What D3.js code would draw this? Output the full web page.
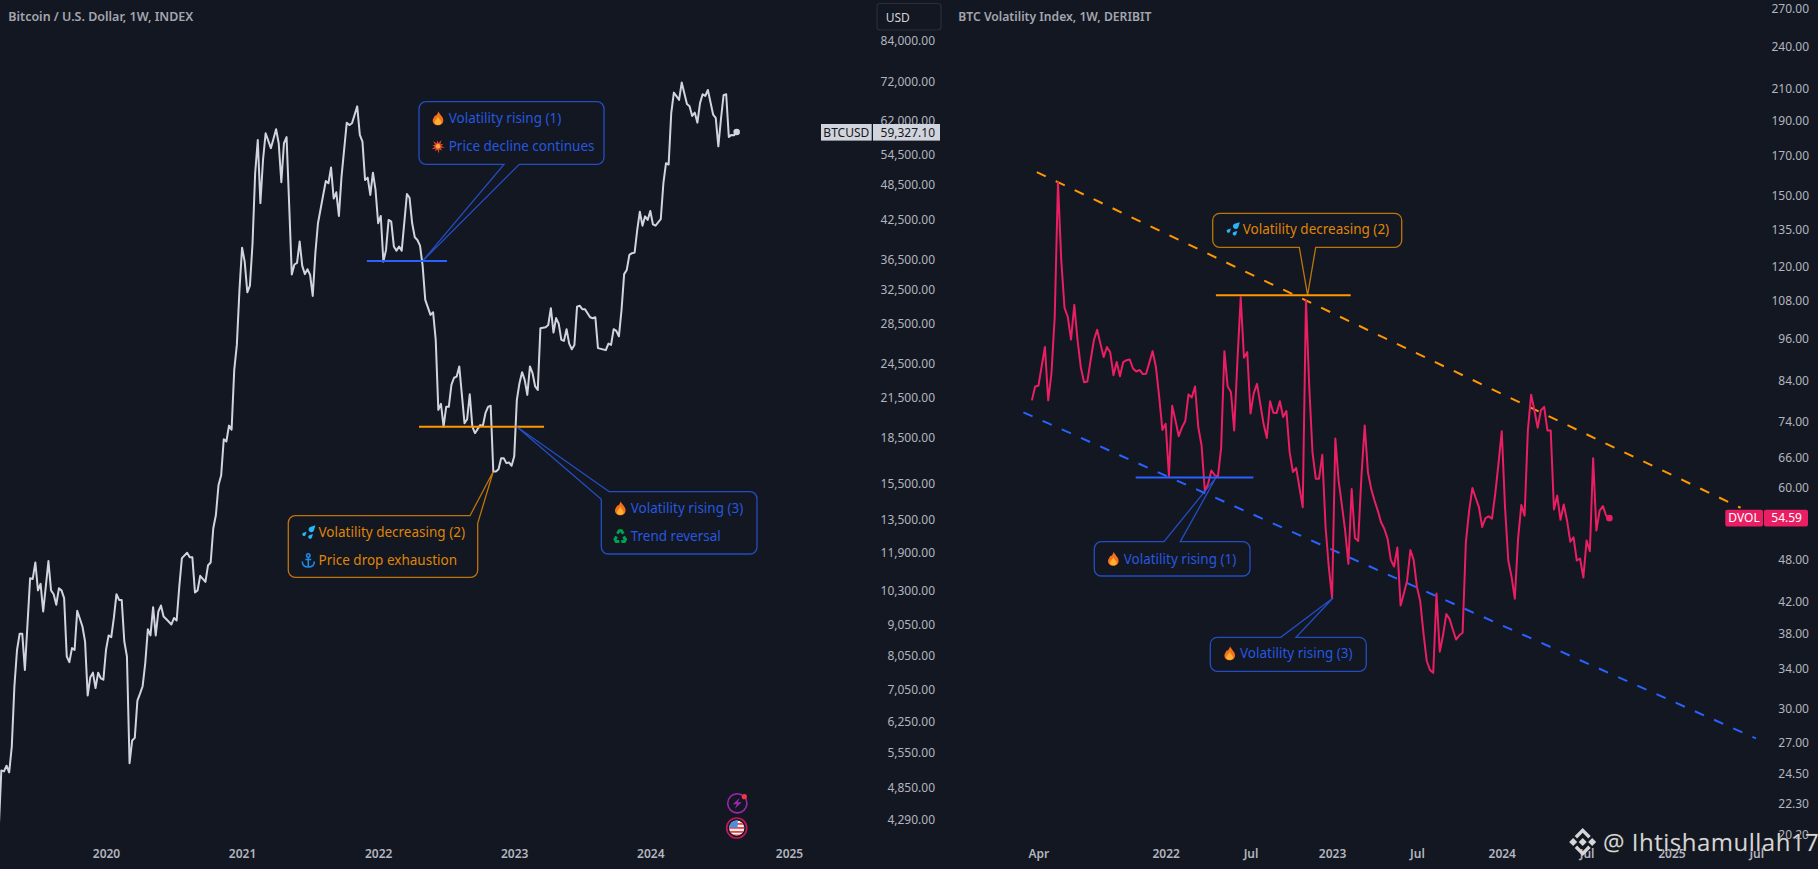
<!DOCTYPE html>
<html><head><meta charset="utf-8">
<script src="https://cdn.jsdelivr.net/npm/d3@7"></script>
<style>
html,body{margin:0;padding:0;background:#131722;overflow:hidden}
svg{display:block}
text{font-family:"Noto Sans",sans-serif}
</style></head><body>
<svg id="c" width="1818" height="869"></svg>
<script>
// ---------- DATA ----------
// BTCUSD: weeks since 2020-01-06 and weekly closes
const btcWeek=[-41,-40,-39,-38,-37,-36,-35,-34,-33,-32,-31,-29,-28,-27,-26,-25,-24,-22,-21,-20,-19,-18,-17,-16,-15,-14,-13,-12,-11,-9,-8,-7,-6,-5,-4,-3,-2,-1,
0,1,2,3,4,5,6,7,8,9,10,11,12,13,14,15,16,17,18,19,20,21,22,23,25,26,27,28,29,31,32,33,34,35,36,38,39,40,41,42,43,44,45,46,47,48,49,50,51,52,53,54,55,56,57,58,59,60,61,63,65,66,67,68,69,70,71,72,73,74,75,76,77,78,79,80,81,83,84,85,86,87,88,89,90,92,93,94,96,97,98,99,100,101,102,103,104,105,106,107,108,109,110,111,112,113,115,116,117,118,119,120,121,122,124,125,126,127,128,129,130,131,132,133,134,135,137,138,139,140,141,142,143,144,145,146,147,148,149,150,151,152,153,154,155,156,157,158,159,160,161,162,163,164,165,166,168,169,170,171,172,173,174,175,176,177,178,179,180,181,182,183,185,186,187,188,191,192,193,194,195,196,197,198,199,200,201,202,203,204,205,206,207,208,209,210,212,213,214,215,216,217,219,220,222,223,224,225,226,227,228,229,230,232,233,234,235,236,237,238,239,240,241];
const btcClose=[4134,5184,5165,5278,5145,5680,7150,8210,8740,8740,7610,10800,10770,11470,10310,10570,9510,11530,10310,10160,9760,10390,10310,10010,8010,7840,8270,8210,9540,8980,8480,6900,7400,7530,7100,7530,7370,7330,
8210,8680,8620,9280,10160,9940,9940,8480,8010,5330,5810,5870,6770,6950,7150,7810,8890,8680,9670,8680,9510,9730,9330,9240,9050,9280,9190,10450,11660,11900,11700,11700,10230,10310,10900,10650,11350,11470,13070,13750,15420,15980,18360,18200,19340,19050,23900,26320,32470,38160,36180,32180,33020,38800,50690,57560,45230,53330,59060,55790,59970,56850,48980,56850,58190,44900,34440,35780,35990,39050,35590,34490,35140,34380,31740,37360,41880,46660,49226,48800,51800,46030,47140,43070,50040,61500,60940,61350,65450,58680,57200,49410,49850,46660,50800,47560,41880,43070,36180,37830,42420,42140,38330,37730,38330,37730,46840,46160,41880,39700,39290,38460,35590,31260,29520,29820,26830,20540,21020,19270,20780,20780,22590,23220,23320,24240,19520,19820,21800,19270,18790,19080,19380,19310,20280,20770,20870,16230,16230,16370,17070,17070,16760,16800,16590,17200,21340,22740,23720,23030,21750,24240,23630,22460,22170,28050,28150,28400,30280,27590,29160,28550,26830,26730,27950,26450,25890,26320,30460,30570,30170,30170,29250,29140,29250,26000,25800,26450,26320,27950,27770,27200,30060,34490,35050,37110,37360,37440,40820,43780,41500,43000,42420,43900,41720,41490,42530,48800,52680,52420,63750,68970,67080,71670,66050,65460,63100,63890,61500,66260,68550,68090,69660,63440,62620,56190,62370,68290,68550,58240,58690,58610,59327.10];
// DVOL: weeks since 2022-01-03 and weekly closes
const dvolWeek=[-40,-39,-38,-36,-35,-34,-33,-32,-31,-30,-29,-28,-27,-26,-25,-24,-23,-22,-21,-20,-19,-18,-17,-16,-15,-14,-13,-12,-11,-10,-9,-8,-7,-6,-5,-3,-2,-1,0,1,2,3,4,5,6,7,8,9,10,11,12,13,14,15,16,17,18,19,20,21,22,23,24,25,26,27,28,29,31,32,33,34,35,36,37,38,39,40,41,43,44,45,46,47,48,49,50,51,52,53,54,55,56,57,58,59,60,61,62,63,64,65,66,67,68,69,70,71,72,73,74,75,76,77,78,79,80,81,82,83,84,85,86,87,88,89,90,91,92,93,94,95,96,97,98,99,100,101,102,103,104,105,106,107,108,109,110,111,112,113,114,115,116,117,118,119,120,121,122,123,124,125,126,127,128,129,130,131,132,133,134,135,136,137];
const dvolClose=[79.0,82.5,82.7,93.4,79.0,86.0,102.7,156.6,122.7,105.6,102.7,95.6,106.6,95.4,87.6,83.6,83.8,89.6,95.4,98.6,94.4,90.5,93.4,91.9,85.5,89.1,85.2,89.1,89.6,89.8,87.3,86.5,86.9,85.8,85.9,92.2,87.8,80.0,72.0,73.4,62.3,77.7,74.2,70.6,72.6,74.0,80.5,79.7,82.5,72.6,68.6,59.5,60.8,63.4,62.5,62.2,68.0,92.2,82.5,81.1,71.9,89.6,109.2,90.3,91.9,75.8,80.8,83.2,73.4,70.2,78.8,76.0,75.9,78.8,75.0,76.4,67.1,63.1,63.9,56.5,108.2,82.5,67.1,61.8,61.8,66.6,53.1,46.8,42.5,70.1,61.4,56.9,52.5,47.3,59.8,51.3,50.8,62.3,73.0,63.0,59.8,57.7,55.9,53.9,52.8,51.2,47.9,46.9,49.8,41.5,43.1,44.9,49.4,47.9,44.0,42.1,38.1,34.9,33.9,33.6,43.1,35.9,37.8,40.4,39.8,38.5,37.3,37.8,38.1,50.6,55.9,60.0,58.2,56.5,53.1,54.6,54.9,54.5,58.9,64.8,71.7,56.5,47.8,45.4,42.4,51.2,56.9,55.0,71.9,80.4,76.6,72.5,76.6,77.4,71.9,71.9,56.1,58.6,54.3,57.0,54.2,50.7,51.4,47.8,48.1,45.3,50.9,49.2,65.9,52.5,55.9,56.7,55.0,54.59];
// Axis ticks
const btcTicks=[84000,72000,62000,54500,48500,42500,36500,32500,28500,24500,21500,18500,15500,13500,11900,10300,9050,8050,7050,6250,5550,4850,4290];
const dvolTicks=[270,240,210,190,170,150,135,120,108,96,84,74,66,60,48,42,38,34,30,27,24.5,22.3,20.2];
const btcTimeDates=["2020-01-06","2021-01-04","2022-01-03","2023-01-02","2024-01-01","2025-01-06"];
const btcTimeLabels=["2020","2021","2022","2023","2024","2025"];
const dvolTimeDates=["2021-04-12","2022-01-10","2022-07-11","2023-01-02","2023-07-03","2024-01-01","2024-07-01","2024-12-30","2025-06-30"];
const dvolTimeLabels=["Apr","2022","Jul","2023","Jul","2024","Jul","2025","Jul"];
// Annotation levels (week from, week to, value)
const btcLevels=[[99.7,130.3,36272,"#2962ff"],[119.6,167.4,19260,"#ff9800"]];
const dvolLevels=[[16.4,57.7,109.9,"#ff9800"],[-8.2,27.9,62.0,"#2962ff"]];
const dvolTrends=[[-38.5,161.7,177.2,56.4,"#ff9800"],[-42.6,76.1,181.9,27.35,"#2962ff"]];
const titleBtc="Bitcoin / U.S. Dollar, 1W, INDEX";
const titleDvol="BTC Volatility Index, 1W, DERIBIT";
const BLUE="#2962ff",ORANGE="#ff9800";
// callouts: tip in data units, box & tail in screen layout
const btcCallouts=[
 {tip:[121,36272],c:BLUE,box:[419,101.7,604,164.3],tail:[[519.3,164.3],[504,164.3]],lines:[["flame","Volatility rising (1)"],["burst","Price decline continues"]],tx:448.7,ix:438,ty:[118.3,146.3]},
 {tip:[148,16230],c:ORANGE,box:[288.3,515.7,477.7,577.3],tail:[[470,515.7],[477.7,523.3]],lines:[["drops","Volatility decreasing (2)"],["anchor","Price drop exhaustion"]],tx:318.5,ix:308.3,ty:[532.5,560.5]},
 {tip:[157,19260],c:BLUE,box:[601.3,491.7,757,554],tail:[[609.3,491.7],[601.3,499.3]],lines:[["flame","Volatility rising (3)"],["recycle","Trend reversal"]],tx:630.7,ix:620.3,ty:[508.3,536.3]}
];
const dvolCallouts=[
 {tip:[44.5,109.9],c:ORANGE,box:[1212.7,213.3,1401.7,247.3],tail:[[1315.7,247.3],[1299.3,247.3]],lines:[["drops","Volatility decreasing (2)"]],tx:1242.7,ix:1232.7,ty:[229.3]},
 {tip:[16.4,62.0],c:BLUE,box:[1094.3,541.7,1250,576],tail:[[1164,541.7],[1180.3,541.7]],lines:[["flame","Volatility rising (1)"]],tx:1123.7,ix:1113.3,ty:[558.7]},
 {tip:[52.3,42.5],c:BLUE,box:[1210.3,637.3,1366.3,671.3],tail:[[1280.7,637.3],[1296,637.3]],lines:[["flame","Volatility rising (3)"]],tx:1240,ix:1229.7,ty:[653.3]}
];
// ---------- SCALES ----------
const D=s=>new Date(s+"T00:00:00Z");
const x1=d3.scaleUtc().domain([D("2020-01-06"),D("2025-01-06")]).range([106,789]);
const x2=d3.scaleUtc().domain([D("2022-01-03"),D("2025-01-06")]).range([1162.4,1674.7]);
const wk1=w=>new Date(+D("2020-01-06")+w*7*864e5);
const wk2=w=>new Date(+D("2022-01-03")+w*7*864e5);
const y1=d3.scaleLog().domain([84000,4290]).range([41,820]);
const y2=d3.scaleLog().domain([270,20.2]).range([8.7,835]);
const svg=d3.select("#c");
svg.append("rect").attr("width",1818).attr("height",869).attr("fill","#131722");
const TICK="#b2b5be";
// ---------- AXES ----------
function yAxis(x,scale,vals){
  const g=svg.append("g").attr("transform",`translate(${x},0)`)
   .call(d3.axisRight(scale).tickValues(vals).tickFormat(d3.format(",.2f")).tickSize(0).tickPadding(0));
  g.select(".domain").remove();
  g.selectAll("text").attr("text-anchor","end").attr("x",0).attr("fill",TICK).style("font-size","12px").style("font-family",'"Noto Sans"');
}
function xAxis(scale,dates,labels){
  const g=svg.append("g").attr("transform","translate(0,850)")
   .call(d3.axisBottom(scale).tickValues(dates.map(D)).tickFormat((d,i)=>labels[i]).tickSize(0).tickPadding(0));
  g.select(".domain").remove();
  g.selectAll("text").attr("fill",TICK).attr("dy","0.7em").style("font-size","12px").style("font-weight","600").style("font-family",'"Noto Sans"');
}
yAxis(935,y1,btcTicks);yAxis(1809,y2,dvolTicks);
xAxis(x1,btcTimeDates,btcTimeLabels);xAxis(x2,dvolTimeDates,dvolTimeLabels);
// ---------- TITLES ----------
[[8.3,titleBtc,185],[958.3,titleDvol,193]].forEach(([x,t,w])=>svg.append("text").attr("x",x).attr("y",21).attr("fill","#a3a6af").attr("textLength",w).attr("lengthAdjust","spacingAndGlyphs").style("font-size","12.3px").style("font-weight","600").text(t));
// USD box
svg.append("rect").attr("x",877).attr("y",3.5).attr("width",64).attr("height",26.5).attr("rx",3).attr("fill","none").attr("stroke","#2a2e39").attr("stroke-width",1.2);
svg.append("text").attr("x",885.7).attr("y",21.5).attr("fill","#d1d4dc").style("font-size","12px").text("USD");
// ---------- LEVELS ----------
function levels(arr,xs,wk,ys){arr.forEach(([a,b,v,c])=>svg.append("line").attr("x1",xs(wk(a))).attr("x2",xs(wk(b))).attr("y1",ys(v)).attr("y2",ys(v)).attr("stroke",c).attr("stroke-width",2));}
// ---------- LINES ----------
const lineOf=(xs,wk,ys,ws,vs)=>d3.line().x((d,i)=>xs(wk(ws[i]))).y((d,i)=>ys(vs[i]))(vs);
svg.append("path").attr("d",lineOf(x1,wk1,y1,btcWeek,btcClose)).attr("fill","none").attr("stroke","#d1d4dc").attr("stroke-width",2).attr("stroke-linejoin","round");
svg.append("circle").attr("cx",x1(wk1(btcWeek.at(-1)))).attr("cy",y1(btcClose.at(-1))).attr("r",3.3).attr("fill","#d1d4dc");
dvolTrends.forEach(([a,va,b,vb,c])=>svg.append("line").attr("x1",x2(wk2(a))).attr("y1",y2(va)).attr("x2",x2(wk2(b))).attr("y2",y2(vb)).attr("stroke",c).attr("stroke-width",2).attr("stroke-dasharray","10 11"));
svg.append("path").attr("d",lineOf(x2,wk2,y2,dvolWeek,dvolClose)).attr("fill","none").attr("stroke","#e91e63").attr("stroke-width",2).attr("stroke-linejoin","round");
svg.append("circle").attr("cx",x2(wk2(dvolWeek.at(-1)))).attr("cy",y2(dvolClose.at(-1))).attr("r",3.3).attr("fill","#e91e63");
levels(btcLevels,x1,wk1,y1);levels(dvolLevels,x2,wk2,y2);
// ---------- ICONS ----------
const icons={
 flame(g){g.append("path").attr("d","M0.5,-7 C1,-4 5.3,-2 5.3,2 C5.3,5.2 3,7 0,7 C-3,7 -5.3,5.2 -5.3,2 C-5.3,0 -3.4,-1.2 -3,-3 C-2.2,-2 -1,-3 0.5,-7Z").attr("fill","#f4701a");
   g.append("path").attr("d","M0,-1.5 C1,1 3.4,2 3.4,4 C3.4,5.9 1.6,6.6 0,6.6 C-1.6,6.6 -3.4,5.9 -3.4,4 C-3.4,2 -1,1 0,-1.5Z").attr("fill","#ffb02e");},
 burst(g){const pts=d3.range(20).map(i=>{const a=i*Math.PI/10+0.2,r=i%2?3.2:(i%4?5.8:7.2);return [r*Math.cos(a),r*Math.sin(a)];});
   g.append("path").attr("d",d3.line()(pts)+"Z").attr("fill","#e8452c");g.append("circle").attr("r",2.2).attr("fill","#ffb02e");},
 drops(g){const dr=(x,y,s)=>g.append("path").attr("transform",`translate(${x},${y}) scale(${s})`).attr("d","M3.6,-3.6 L2.2,1 A2.4,2.4 0 1 1 -1,-2.2 Z").attr("fill","#29b6f6");
   dr(3,-3,1.15);dr(-4.3,1.8,0.72);dr(1.8,4.4,0.78);},
 anchor(g){const p=g.append("g").attr("fill","none").attr("stroke","#1e88e5").attr("stroke-width",1.6);
   p.append("circle").attr("cy",-5).attr("r",1.7);p.append("path").attr("d","M0,-3 V6.5 M-3,-1 H3 M-6,1 C-6,5 -3,6.5 0,6.5 C3,6.5 6,5 6,1");},
 recycle(g){const c="#00a152";
   g.append("path").attr("d","M-1.8,-7 H2 L4.2,-3.2 L1.8,-1.8 L0,-4.6 L-1.8,-2 L-4.2,-3.4Z").attr("fill",c);
   g.append("path").attr("d","M7,3 L5,6.6 H1 V3.6 H3.4 L2,1 L4.6,-0.6Z").attr("fill",c);
   g.append("path").attr("d","M-7,3 L-5,-0.6 L-2.4,1 L-3.8,3.6 H-1 V6.6 H-5Z").attr("fill",c);}
};
// ---------- CALLOUTS ----------
function callouts(list,xs,wk,ys){list.forEach(k=>{
  const tx=xs(wk(k.tip[0])),ty=ys(k.tip[1]);
  const [l,t,r,b]=k.box,R=7,[p,q]=k.tail;
  const path=d3.path();
  path.moveTo(l+R,t);
  if(p[1]===t&&q[1]!==t&&p[0]<l+30&&q[0]===l){
    path.moveTo(p[0],t);path.lineTo(r-R,t);
  } else if(p[1]===t&&q[1]===t){path.lineTo(p[0],t);path.lineTo(tx,ty);path.lineTo(q[0],t);path.lineTo(r-R,t);}
  else if(p[1]===t&&q[0]===r){path.lineTo(p[0],t);path.lineTo(tx,ty);path.lineTo(r,q[1]);}
  else path.lineTo(r-R,t);
  if(!(p[1]===t&&q[0]===r))path.arcTo(r,t,r,t+R,R);
  path.lineTo(r,b-R);path.arcTo(r,b,r-R,b,R);
  if(p[1]===b){path.lineTo(p[0],b);path.lineTo(tx,ty);path.lineTo(q[0],b);}
  path.lineTo(l+R,b);path.arcTo(l,b,l,b-R,R);
  if(q[0]===l&&p[1]===t){path.lineTo(l,q[1]);path.lineTo(tx,ty);path.lineTo(p[0],t);}
  else{path.lineTo(l,t+R);path.arcTo(l,t,l+R,t,R);path.closePath();}
  svg.append("path").attr("d",path.toString()).attr("fill","none").attr("stroke",k.c).attr("stroke-opacity",0.72).attr("stroke-width",1.3);
  k.lines.forEach((ln,i)=>{
    const g=svg.append("g").attr("transform",`translate(${k.ix},${k.ty[i]})`);icons[ln[0]](g);
    svg.append("text").attr("x",k.tx).attr("y",k.ty[i]).attr("dy","0.36em").attr("fill",k.c).attr("fill-opacity",0.88).style("font-size","13.5px").text(ln[1]);
  });
});}
callouts(btcCallouts,x1,wk1,y1);callouts(dvolCallouts,x2,wk2,y2);
// ---------- PRICE LABELS ----------
function tag(x,w,yc,fill,tc,txt,ax,anchor,rad){
  svg.append("rect").attr("x",x).attr("y",yc-8.3).attr("width",w).attr("height",16.6).attr("rx",rad).attr("fill",fill);
  svg.append("text").attr("x",ax).attr("y",yc).attr("dy","0.36em").attr("text-anchor",anchor).attr("fill",tc).style("font-size","12px").text(txt);
}
const yd=y2(dvolClose.at(-1));
tag(821,50.7,132.3,"#d1d4dc","#131722","BTCUSD",846.3,"middle",0);
tag(873,67,132.3,"#d1d4dc","#131722",d3.format(",.2f")(btcClose.at(-1)),935,"end",0);
tag(1725.3,37.7,yd,"#e91e63","#fff","DVOL",1744,"middle",2);
tag(1764,44,yd,"#e91e63","#fff",d3.format(".2f")(dvolClose.at(-1)),1802,"end",2);
// ---------- EVENT ICONS ----------
const e1=svg.append("g").attr("transform","translate(737.3,803.3)");
e1.append("circle").attr("r",9.6).attr("fill","#131722").attr("stroke","#9c27b0").attr("stroke-width",1.6);
e1.append("path").attr("d","M2.5,-5.5 L-4.5,1 H-0.5 L-2.5,5.5 L4.5,-1 H0.5Z").attr("fill","#9c27b0");
svg.append("circle").attr("cx",744.3).attr("cy",796.7).attr("r",2.6).attr("fill","#f23645");
const e2=svg.append("g").attr("transform","translate(736.7,828)");
e2.append("circle").attr("r",10).attr("fill","#131722").attr("stroke","#c2185b").attr("stroke-width",1.7);
e2.append("circle").attr("r",7.6).attr("fill","#f4f4f4");
const cp=e2.append("clipPath").attr("id","fl");cp.append("circle").attr("r",7.6);
const f=e2.append("g").attr("clip-path","url(#fl)");
[-5,-1,3,6.5].forEach(y=>f.append("rect").attr("x",-8).attr("y",y).attr("width",16).attr("height",1.8).attr("fill","#ef4444"));
f.append("rect").attr("x",-8).attr("y",-8).attr("width",9).attr("height",7.5).attr("fill","#4a90e2");
// ---------- WATERMARK ----------
const wm=svg.append("g");
const lg=wm.append("g").attr("transform","translate(1582.7,842)").attr("fill","#d6d6d6");
const bin=["M0,-4 L4,0 L0,4 L-4,0Z","M-9.5,-4 L-5.5,0 L-9.5,4 L-13.5,0Z","M9.5,-4 L13.5,0 L9.5,4 L5.5,0Z","M0,-14 L8,-6 L5.6,-3.6 L0,-9.2 L-5.6,-3.6 L-8,-6Z","M0,14 L8,6 L5.6,3.6 L0,9.2 L-5.6,3.6 L-8,6Z"];
bin.forEach(d=>lg.append("path").attr("d",d));
wm.append("text").attr("x",1603).attr("y",851).attr("fill","#d6d6d6").style("font-size","24px").style("font-family",'"Open Sans"').style("letter-spacing","0.5px").style("paint-order","stroke").attr("stroke","#2a2a2a").attr("stroke-width",0.8).text("@ Ihtishamullah17");
</script>
</body></html>
